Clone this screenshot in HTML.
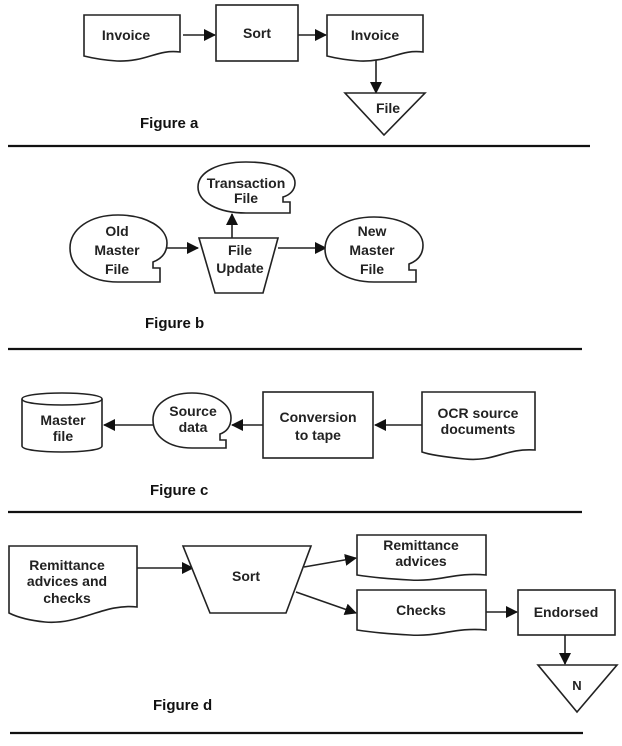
<!DOCTYPE html>
<html><head><meta charset="utf-8"><style>
html,body{margin:0;padding:0;background:#fff;}
svg{display:block;}
text{font-family:"Liberation Sans",Arial,sans-serif;font-weight:bold;font-size:14px;fill:#222;text-anchor:middle;}
.f{font-size:15px;text-anchor:start;fill:#111;}
.s{fill:#fff;stroke:#222;stroke-width:1.6;}
.l{stroke:#222;stroke-width:1.6;fill:none;}
.h{stroke:#111;stroke-width:2.2;}
</style></head><body>
<svg width="622" height="746" viewBox="0 0 622 746" xmlns="http://www.w3.org/2000/svg">
<defs>
<marker id="a" markerWidth="12" markerHeight="12" refX="11" refY="6" orient="auto" markerUnits="userSpaceOnUse">
<path d="M0,0 L12,6 L0,12 Z" fill="#111"/></marker>
</defs>

<!-- Figure a -->
<path class="s" d="M84,15 H180 V52 C157,49 147,62 117,61 C102,60 92,58 84,56 Z"/>
<text x="126" y="40">Invoice</text>
<line class="l" x1="183" y1="35" x2="215" y2="35" marker-end="url(#a)"/>
<rect class="s" x="216" y="5" width="82" height="56"/>
<text x="257" y="38">Sort</text>
<line class="l" x1="298" y1="35" x2="326" y2="35" marker-end="url(#a)"/>
<path class="s" d="M327,15 H423 V52 C400,49 390,62 360,61 C345,60 335,58 327,56 Z"/>
<text x="375" y="40">Invoice</text>
<line class="l" x1="376" y1="60" x2="376" y2="93" marker-end="url(#a)"/>
<path class="s" d="M345,93 H425 L384,135 Z"/>
<text x="388" y="113">File</text>
<text class="f" x="140" y="128">Figure a</text>
<line class="h" x1="8" y1="146" x2="590" y2="146"/>

<!-- Figure b -->
<path class="s" d="M246,162 C275,162 295,170 295,183 C295,190 290,195 283,197 L283,202 L290,202 L290,213 L246,213 C218,213 198,202 198,187 C198,172 218,162 246,162 Z"/>
<text x="246" y="188">Transaction</text>
<text x="246" y="203">File</text>
<path class="s" d="M118,215 C147,215 167,228 167,243 C167,253 161,259 153,262 L153,268 L160,268 L160,282 L118,282 C90,282 70,268 70,248 C70,229 90,215 118,215 Z"/>
<text x="117" y="236">Old</text>
<text x="117" y="255">Master</text>
<text x="117" y="274">File</text>
<line class="l" x1="167" y1="248" x2="198" y2="248" marker-end="url(#a)"/>
<path class="s" d="M199,238 H278 L263,293 H215 Z"/>
<text x="240" y="255">File</text>
<text x="240" y="273">Update</text>
<line class="l" x1="232" y1="238" x2="232" y2="214" marker-end="url(#a)"/>
<line class="l" x1="278" y1="248" x2="326" y2="248" marker-end="url(#a)"/>
<path class="s" d="M374,217 C403,217 423,230 423,245 C423,255 417,261 409,264 L409,270 L416,270 L416,282 L374,282 C346,282 325,268 325,249 C325,230 346,217 374,217 Z"/>
<text x="372" y="236">New</text>
<text x="372" y="255">Master</text>
<text x="372" y="274">File</text>
<text class="f" x="145" y="328">Figure b</text>
<line class="h" x1="8" y1="349" x2="582" y2="349"/>

<!-- Figure c -->
<path class="s" d="M22,399 C22,391 102,391 102,399 V446 C102,454 22,454 22,446 Z"/>
<path class="l" d="M22,399 C22,407 102,407 102,399"/>
<text x="63" y="425">Master</text>
<text x="63" y="441">file</text>
<line class="l" x1="153" y1="425" x2="104" y2="425" marker-end="url(#a)"/>
<path class="s" d="M192,393 C216,393 231,405 231,418 C231,427 226,432 220,434 L220,440 L226,440 L226,448 L192,448 C168,448 153,436 153,420 C153,405 168,393 192,393 Z"/>
<text x="193" y="416">Source</text>
<text x="193" y="432">data</text>
<line class="l" x1="263" y1="425" x2="232" y2="425" marker-end="url(#a)"/>
<rect class="s" x="263" y="392" width="110" height="66"/>
<text x="318" y="422">Conversion</text>
<text x="318" y="440">to tape</text>
<line class="l" x1="422" y1="425" x2="375" y2="425" marker-end="url(#a)"/>
<path class="s" d="M422,392 H535 V450 C505,448 495,462 465,459 C445,457 430,455 422,452 Z"/>
<text x="478" y="418">OCR source</text>
<text x="478" y="434">documents</text>
<text class="f" x="150" y="495">Figure c</text>
<line class="h" x1="8" y1="512" x2="582" y2="512"/>

<!-- Figure d -->
<path class="s" d="M9,546 H137 V607 C105,603 80,625 45,622 C25,620 15,616 9,613 Z"/>
<text x="67" y="570">Remittance</text>
<text x="67" y="586">advices and</text>
<text x="67" y="603">checks</text>
<line class="l" x1="137" y1="568" x2="193" y2="568" marker-end="url(#a)"/>
<path class="s" d="M183,546 H311 L286,613 H210 Z"/>
<text x="246" y="581">Sort</text>
<line class="l" x1="304" y1="567" x2="356" y2="558" marker-end="url(#a)"/>
<line class="l" x1="296" y1="592" x2="356" y2="613" marker-end="url(#a)"/>
<path class="s" d="M357,535 H486 V575 C455,572 440,582 410,580 C390,579 370,577 357,575 Z"/>
<text x="421" y="550">Remittance</text>
<text x="421" y="566">advices</text>
<path class="s" d="M357,590 H486 V630 C455,627 440,637 410,635 C390,634 370,632 357,630 Z"/>
<text x="421" y="615">Checks</text>
<line class="l" x1="486" y1="612" x2="517" y2="612" marker-end="url(#a)"/>
<rect class="s" x="518" y="590" width="97" height="45"/>
<text x="566" y="617">Endorsed</text>
<line class="l" x1="565" y1="635" x2="565" y2="664" marker-end="url(#a)"/>
<path class="s" d="M538,665 H617 L577,712 Z"/>
<text x="577" y="690" style="font-size:13px">N</text>
<text class="f" x="153" y="710">Figure d</text>
<line class="h" x1="10" y1="733" x2="583" y2="733"/>
</svg>
</body></html>
